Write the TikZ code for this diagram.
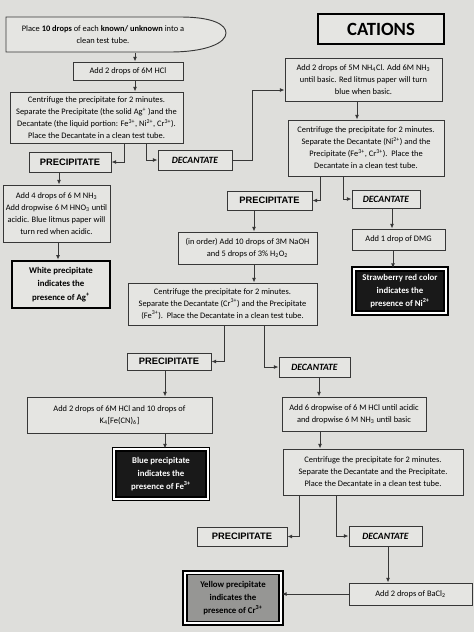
\documentclass[tikz,border=0pt]{standalone}
\usepackage{fontspec}
\setmainfont{Carlito}
\newfontfamily\headfont{Liberation Sans}
\usetikzlibrary{arrows.meta}

\definecolor{paper}{RGB}{222,222,219}
\definecolor{boxfill}{RGB}{229,229,226}
\definecolor{ink}{RGB}{55,55,55}
\definecolor{ashfill}{RGB}{150,150,148}

\tikzset{every picture/.style={line width=0.75pt}}
\tikzset{
  box/.style={draw=ink, line width=0.7pt, fill=boxfill, align=center, inner sep=1pt,
    font=\fontsize{6.3}{9}\selectfont},
  headbox/.style={box, font=\headfont\bfseries\fontsize{7}{8}\selectfont},
  decbox/.style={box, font=\bfseries\itshape\fontsize{7.2}{8}\selectfont},
  resultbox/.style={draw=black, line width=2pt, fill=boxfill, align=center, inner sep=1pt,
    font=\bfseries\fontsize{6.6}{10}\selectfont},
  darkbox/.style={draw=black, line width=1.3pt, double=white, double distance=1.6pt,
    fill=black!90, text=white, align=center, inner sep=1pt, font=\bfseries\fontsize{6.6}{10}\selectfont},
  greybox/.style={darkbox, fill=ashfill, text=black},
  arr/.style={draw=ink, line width=0.7pt, -{Latex[length=3.5pt,width=3pt]}}
}

\begin{document}
\begin{tikzpicture}[x=0.75pt,y=0.75pt,yscale=-1,xscale=1]
\useasboundingbox (0,0) rectangle (474,632);
\fill[paper] (0,0) rectangle (474,632);
				%Shape: opening tab
				\draw [draw=ink, line width=0.7pt, fill=boxfill] (6,17) -- (180,17) .. controls (214,17) and (226,25) .. (226,33) .. controls (226,43) and (206,52) .. (170,52) -- (6,52) -- cycle ;
				% Text Node
				\node (place) at (103,34.5) [align=center, inner sep=0pt, minimum height=26.25pt, font=\fontsize{6.3}{9}\selectfont] {Place \textbf{10 drops} of each \textbf{known/ unknown} into a\\ clean test tube.};
				% Title
				\node (cations) at (381,29) [draw=black, line width=1.6pt, fill=boxfill, minimum width=94.5pt, minimum height=22.5pt, font=\bfseries\fontsize{14}{14}\selectfont] {CATIONS};
				% first column
				\node (hcl1) at (128,71) [box, minimum width=82.5pt, minimum height=13.5pt] {Add 2 drops of 6M HCl};
				\node (cent1) at (96.5,117.5) [box, minimum width=129.75pt, minimum height=38.25pt] {Centrifuge the precipitate for 2 minutes.\\ Separate the Precipitate (the solid Ag\textsuperscript{+} )and the\\ Decantate (the liquid portion: Fe\textsuperscript{3+}, Ni\textsuperscript{2+}, Cr\textsuperscript{3+}).\\ Place the Decantate in a clean test tube.};
				\node (prec1) at (70,162) [headbox, minimum width=61.5pt, minimum height=15pt] {PRECIPITATE};
				\node (dec1) at (195,160) [decbox, minimum width=55.5pt, minimum height=15pt] {DECANTATE};
				\node (nh3) at (56.5,213.5) [box, minimum width=80.25pt, minimum height=42.75pt] {Add 4 drops of 6 M NH\textsubscript{3}\\ Add dropwise 6 M HNO\textsubscript{3} until\\ acidic. Blue litmus paper will\\ turn red when acidic.};
				\node (white) at (61,284.5) [resultbox, minimum width=73.5pt, minimum height=35.25pt] {White precipitate\\ indicates the\\ presence of Ag\textsuperscript{+}};
				% right column
				\node (nh4) at (363.5,79.5) [box, minimum width=117.75pt, minimum height=32.25pt] {Add 2 drops of 5M NH\textsubscript{4}Cl. Add 6M NH\textsubscript{3}\\ until basic. Red litmus paper will turn\\ blue when basic.};
				\node (cent2) at (366,148) [box, minimum width=117pt, minimum height=42pt] {Centrifuge the precipitate for 2 minutes.\\ Separate the Decantate (Ni\textsuperscript{2+}) and the\\ Precipitate (Fe\textsuperscript{3+}, Cr\textsuperscript{3+}).\ \ Place the\\ Decantate in a clean test tube.};
				\node (prec2) at (269.5,200.5) [headbox, minimum width=63.75pt, minimum height=14.25pt] {PRECIPITATE};
				\node (dec2) at (386,199) [decbox, minimum width=51pt, minimum height=13.5pt] {DECANTATE};
				\node (dmg) at (398.5,239.5) [box, minimum width=69.75pt, minimum height=15.75pt] {Add 1 drop of DMG};
				\node (straw) at (400,291) [darkbox, minimum width=69pt, minimum height=33pt] {Strawberry red color\\ indicates the\\ presence of Ni\textsuperscript{2+}};
				% middle column
				\node (naoh) at (247.5,248) [box, minimum width=104.25pt, minimum height=24pt] {(in order) Add 10 drops of 3M NaOH\\ and 5 drops of 3\% H\textsubscript{2}O\textsubscript{2}};
				\node (cent3) at (222.5,304) [box, minimum width=141.75pt, minimum height=31.5pt] {Centrifuge the precipitate for 2 minutes.\\ Separate the Decantate (Cr\textsuperscript{3+}) and the Precipitate\\ (Fe\textsuperscript{3+}).\ \ Place the Decantate in a clean test tube.};
				\node (prec3) at (169,361.5) [headbox, minimum width=63pt, minimum height=12.75pt] {PRECIPITATE};
				\node (dec3) at (314.5,367) [decbox, minimum width=53.25pt, minimum height=15pt] {DECANTATE};
				\node (k4) at (119.5,415) [box, minimum width=138.75pt, minimum height=27pt] {Add 2 drops of 6M HCl and 10 drops of\\ K\textsubscript{4}[Fe(CN)\textsubscript{6}]};
				\node (blue) at (161,474) [darkbox, minimum width=70pt, minimum height=37pt] {Blue precipitate\\ indicates the\\ presence of Fe\textsuperscript{3+}};
				\node (hcl2) at (354,414) [box, minimum width=108pt, minimum height=25.5pt] {Add 6 dropwise of 6 M HCl until acidic\\ and dropwise 6 M NH\textsubscript{3} until basic};
				\node (cent4) at (373,472) [box, minimum width=135pt, minimum height=34.5pt] {Centrifuge the precipitate for 2 minutes.\\ Separate the Decantate and the Precipitate.\\ Place the Decantate in a clean test tube.};
				\node (prec4) at (242,536.5) [headbox, minimum width=67.5pt, minimum height=14.25pt] {PRECIPITATE};
				\node (dec4) at (385.5,536) [decbox, minimum width=54.75pt, minimum height=15pt] {DECANTATE};
				\node (bacl) at (410.5,594) [box, minimum width=92.25pt, minimum height=16.5pt] {Add 2 drops of BaCl\textsubscript{2}};
				\node (yellow) at (233,598) [greybox, minimum width=72pt, minimum height=38pt] {Yellow precipitate\\ indicates the\\ presence of Cr\textsuperscript{3+}};
				% Connectors
				\draw [arr] (place.south -| 135,0) -- (hcl1.north -| 135,0);
				\draw [arr] (hcl1.south -| 135,0) -- (cent1.north -| 135,0);
				\draw [arr] (cent1.south -| 124,0) |- (prec1.east);
				\draw [arr] (cent1.south -| 146,0) |- (dec1.west);
				\draw [arr] (dec1.east) -- (dec1.east -| 252,0) |- (nh4.west |- 0,90);
				\draw [arr] (nh4.south -| 357,0) -- (cent2.north -| 357,0);
				\draw [arr] (cent2.south -| 320,0) |- (prec2.east);
				\draw [arr] (cent2.south -| 343,0) |- (dec2.west);
				\draw [arr] (dec2.south -| 392,0) -- (dmg.north -| 392,0);
				\draw [arr] (dmg.south -| 393,0) -- (straw.north -| 393,0);
				\draw [arr] (prec1.south -| 59,0) -- (nh3.north -| 59,0);
				\draw [arr] (nh3.south -| 58,0) -- (white.north -| 58,0);
				\draw [arr] (prec2.south -| 254,0) -- (naoh.north -| 254,0);
				\draw [arr] (naoh.south -| 254,0) -- (cent3.north -| 254,0);
				\draw [arr] (cent3.south -| 224,0) |- (prec3.east);
				\draw [arr] (cent3.south -| 264,0) |- (dec3.west);
				\draw [arr] (prec3.south -| 165,0) -- (k4.north -| 165,0);
				\draw [arr] (k4.south -| 165,0) -- (blue.north -| 165,0);
				\draw [arr] (dec3.south -| 319,0) -- (hcl2.north -| 319,0);
				\draw [arr] (hcl2.south -| 320,0) -- (cent4.north -| 320,0);
				\draw [arr] (cent4.south -| 299,0) |- (prec4.east);
				\draw [arr] (cent4.south -| 336,0) |- (dec4.west);
				\draw [arr] (dec4.south -| 388,0) -- (bacl.north -| 388,0);
				\draw [arr] (bacl.west) -- (bacl.west -| yellow.east);
\end{tikzpicture}
\end{document}
